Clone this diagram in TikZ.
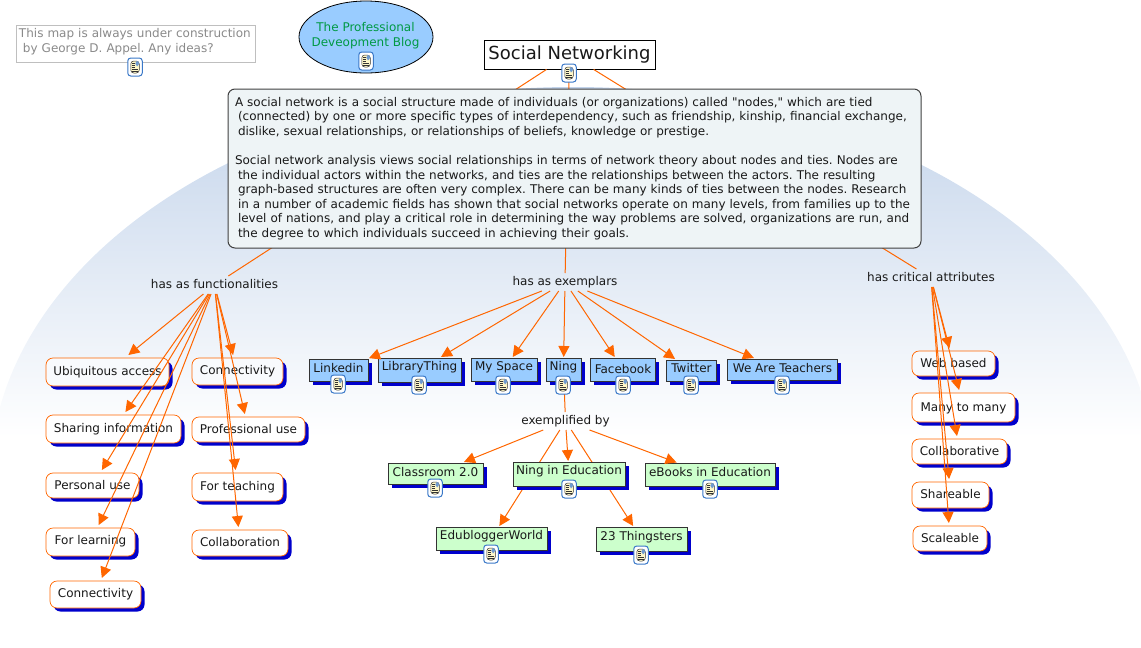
\documentclass[tikz,border=0pt]{standalone}
\usepackage{fontspec}
\newfontfamily\mapfont{DejaVu Sans}
\usetikzlibrary{arrows.meta,shapes.geometric,shadows}
\definecolor{conn}{HTML}{FF6600}
\definecolor{shad}{HTML}{0000CC}
\definecolor{bluebox}{HTML}{99CCFF}
\definecolor{greenbox}{HTML}{CCFFCC}
\definecolor{bigfill}{HTML}{EEF4F6}
\definecolor{blogtext}{HTML}{009944}
\definecolor{notegray}{HTML}{8A8A8A}
\definecolor{domeblue}{HTML}{C2D3EA}
\definecolor{iconblue}{HTML}{3A78C8}
\definecolor{iconyellow}{HTML}{FFF8C8}
\definecolor{iconpic}{HTML}{6E9AD0}
\definecolor{palefill}{HTML}{F8FAFD}
\tikzset{
  x=1pt,y=-1pt,
  txt/.style={font=\mapfont\fontsize{12pt}{14.6pt}\selectfont\frenchspacing,text=black!90},
  shadowed/.style={general shadow={fill=shad,shadow xshift=3.5pt,shadow yshift=-3.5pt}},
  cbox/.style={txt,draw=conn,fill=white,line width=.7pt,rounded corners=7pt,shadowed,inner sep=0pt,
    text height=9.5pt,text depth=2.5pt,outer sep=3pt},
  pale/.style={fill=palefill},
  bbox/.style={txt,draw=black!80,fill=bluebox,line width=1pt,shadowed,inner sep=0pt,
    text height=9.5pt,text depth=2.5pt,outer sep=1pt},
  lbl/.style={txt,inner xsep=2pt,inner ysep=1pt,text height=9.5pt,text depth=2.5pt,outer sep=2pt},
  link/.style={draw=conn,line width=1pt},
  arrowlink/.style={link,-{Triangle[length=11pt,width=11pt]}},
  icon/.style={draw=iconblue,fill=white,line width=1pt,rounded corners=3pt,minimum width=14.5pt,minimum height=18pt,inner sep=0pt,
    path picture={
      \fill[iconyellow,draw=black!80,line width=.5pt] ([xshift=3pt,yshift=-3pt]path picture bounding box.north west) rectangle ([xshift=-3pt,yshift=3pt]path picture bounding box.south east);
      \fill[iconpic] ([xshift=-3pt,yshift=-3pt]path picture bounding box.north east) rectangle ([xshift=-7pt,yshift=-8pt]path picture bounding box.north east);
      \foreach \k in {5.5,7.5,9.5}{\draw[black!80,line width=.45pt] ([xshift=4pt,yshift=-\k pt]path picture bounding box.north west) -- ++(3pt,0);}
      \foreach \k in {11.5,13.5}{\draw[black!80,line width=.45pt] ([xshift=4pt,yshift=-\k pt]path picture bounding box.north west) -- ++(6.5pt,0);}
    }},
}
\begin{document}
\begin{tikzpicture}
\useasboundingbox (0,0) rectangle (1141,648);
% dome
\begin{scope}
\clip (573,480) ellipse [x radius=583,y radius=393];
\shade[top color=domeblue,bottom color=white] (-20,87) rectangle (1160,437);
\end{scope}
% labels
\node[lbl] (func) at (214.5,285) {has as functionalities};
\node[lbl] (exem) at (565,282) {has as exemplars};
\node[lbl] (attr) at (931,278) {has critical attributes};
\node[lbl] (expl) at (565.5,421) {exemplified by};
% title
\node[txt,draw=black,fill=white,line width=.9pt,minimum width=171pt,minimum height=29pt,inner sep=0pt,font=\mapfont\fontsize{18pt}{20pt}\selectfont] (sn) at (569.5,54.5) {Social Networking};
% links from title, hidden by the definition box
\draw[link] (sn) -- (func);
\draw[link] (sn) -- (exem);
\draw[link] (sn) -- (attr);
\node[icon] (snicon) at (569,73) {};
% definition box
\node[txt,draw=black!75,fill=bigfill,line width=1pt,rounded corners=7pt,text width=679pt,minimum height=159pt,inner xsep=7pt,inner ysep=0pt,align=left] (defn) at (574.5,168.5) {%
A social network is a social structure made of individuals (or organizations) called "nodes," which are tied\\
\hspace*{3pt}(connected) by one or more specific types of interdependency, such as friendship, kinship, financial exchange,\\
\hspace*{3pt}dislike, sexual relationships, or relationships of beliefs, knowledge or prestige.\\[14.6pt]
Social network analysis views social relationships in terms of network theory about nodes and ties. Nodes are\\
\hspace*{3pt}the individual actors within the networks, and ties are the relationships between the actors. The resulting\\
\hspace*{3pt}graph-based structures are often very complex. There can be many kinds of ties between the nodes. Research\\
\hspace*{3pt}in a number of academic fields has shown that social networks operate on many levels, from families up to the\\
\hspace*{3pt}level of nations, and play a critical role in determining the way problems are solved, organizations are run, and\\
\hspace*{3pt}the degree to which individuals succeed in achieving their goals.};
% note and blog
\node[draw=black!25,fill=white,line width=.8pt,minimum width=239pt,minimum height=37pt,inner sep=0pt] (note) at (135.5,43.5) {};
\node[txt,text=notegray,inner sep=0pt,text width=233pt,align=left] (notet) at (135.5,41.5) {This map is always under construction\\\hspace*{4pt}by George D. Appel. Any ideas?};
\node[icon] (noteicon) at (135,67) {};
\node[ellipse,draw=black,fill=bluebox,line width=.8pt,minimum width=134pt,minimum height=72pt,inner sep=0pt] (blog) at (366,37) {};
\node[txt,text=blogtext,align=center,inner sep=0pt] (blogt) at (365.5,35.5) {The Professional\\Deveopment Blog};
\node[icon] (blogicon) at (366,61) {};
% function boxes
\node[cbox,pale,minimum width=123pt,minimum height=28pt] (f1) at (107.5,372) {Ubiquitous access};
\node[cbox,minimum width=135pt,minimum height=28pt] (f2) at (113.5,429) {Sharing information};
\node[cbox,minimum width=93pt,minimum height=25pt] (f3) at (92.5,485.5) {Personal use};
\node[cbox,minimum width=89pt,minimum height=28pt,text depth=4.5pt] (f4) at (90.5,542) {For learning};
\node[cbox,minimum width=91pt,minimum height=27pt,text depth=4.5pt] (f5) at (95.5,594.5) {Connectivity};
\node[cbox,pale,minimum width=91pt,minimum height=27pt,text depth=4.5pt] (f6) at (237.5,371.5) {Connectivity};
\node[cbox,minimum width=113pt,minimum height=25pt] (f7) at (248.5,429.5) {Professional use};
\node[cbox,minimum width=91pt,minimum height=28pt] (f8) at (237.5,487) {For teaching};
\node[cbox,minimum width=96pt,minimum height=26pt] (f9) at (240,543) {Collaboration};
% attribute boxes
\node[cbox,pale,minimum width=83pt,minimum height=25pt] (a1) at (953.5,363.5) {Web based};
\node[cbox,minimum width=103pt,minimum height=29pt] (a2) at (963.5,407.5) {Many to many};
\node[cbox,minimum width=95pt,minimum height=25pt] (a3) at (959.5,451.5) {Collaborative};
\node[cbox,minimum width=77pt,minimum height=26pt] (a4) at (950.5,495) {Shareable};
\node[cbox,minimum width=74pt,minimum height=25pt] (a5) at (950,538.5) {Scaleable};
% exemplars
\node[bbox,minimum width=59pt,minimum height=22pt,text depth=4.5pt] (e1) at (338.5,370) {Linkedin};
\node[bbox,minimum width=83pt,minimum height=24pt,text depth=8.5pt] (e2) at (419.5,370) {LibraryThing};
\node[bbox,minimum width=66pt,minimum height=23pt,text depth=8.5pt] (e3) at (504,369.5) {My Space};
\node[bbox,minimum width=35pt,minimum height=23pt,text depth=8.5pt] (e4) at (563.5,369.5) {Ning};
\node[bbox,minimum width=65pt,minimum height=23pt] (e5) at (623,369.5) {Facebook};
\node[bbox,minimum width=50pt,minimum height=21pt,text depth=6.5pt] (e6) at (691.5,370.5) {Twitter};
\node[bbox,minimum width=110pt,minimum height=21pt,text depth=4.5pt] (e7) at (782.5,369.5) {We Are Teachers};
\foreach \t in {e1,e2,e3,e4,e5,e6,e7}{\draw[arrowlink] (exem) -- (\t);}
\draw[link] (e4) -- (expl);
\node[icon] (i1) at (338,384) {};
\node[icon] (i2) at (419,385) {};
\node[icon] (i3) at (503,385) {};
\node[icon] (i4) at (563,385) {};
\node[icon] (i5) at (623,385) {};
\node[icon] (i6) at (691,385) {};
\node[icon] (i7) at (782,385) {};
% examples: links pass under the boxes
\node[bbox,fill=greenbox,minimum width=111pt,minimum height=23pt,text depth=8.5pt] (x4) at (491.5,538.5) {EdubloggerWorld};
\node[bbox,fill=greenbox,minimum width=91pt,minimum height=24pt,text depth=6.5pt] (x5) at (641.5,539) {23 Thingsters};
\draw[arrowlink] (expl) -- (x4);
\draw[arrowlink] (expl) -- (x5);
\node[bbox,fill=greenbox,minimum width=95pt,minimum height=21pt,text depth=4.5pt] (x1) at (435.5,473.5) {Classroom 2.0};
\node[bbox,fill=greenbox,minimum width=112pt,minimum height=24pt,text depth=8.5pt] (x2) at (569,474) {Ning in Education};
\node[bbox,fill=greenbox,minimum width=130pt,minimum height=23pt,text depth=6.5pt] (x3) at (710,475) {eBooks in Education};
\draw[arrowlink] (expl) -- (x1);
\draw[arrowlink] (expl) -- (x2);
\draw[arrowlink] (expl) -- (x3);
\node[icon] (xi1) at (435,488) {};
\node[icon] (xi2) at (569,489) {};
\node[icon] (xi3) at (710,489) {};
\node[icon] (xi4) at (491,554) {};
\node[icon] (xi5) at (641,555) {};
% arrows over the boxes
\foreach \t in {f1,f2,f3,f4,f5,f6,f7,f8,f9}{\draw[arrowlink] (func) -- (\t);}
\foreach \t in {a1,a2,a3,a4,a5}{\draw[arrowlink] (attr) -- (\t);}
\end{tikzpicture}
\end{document}
